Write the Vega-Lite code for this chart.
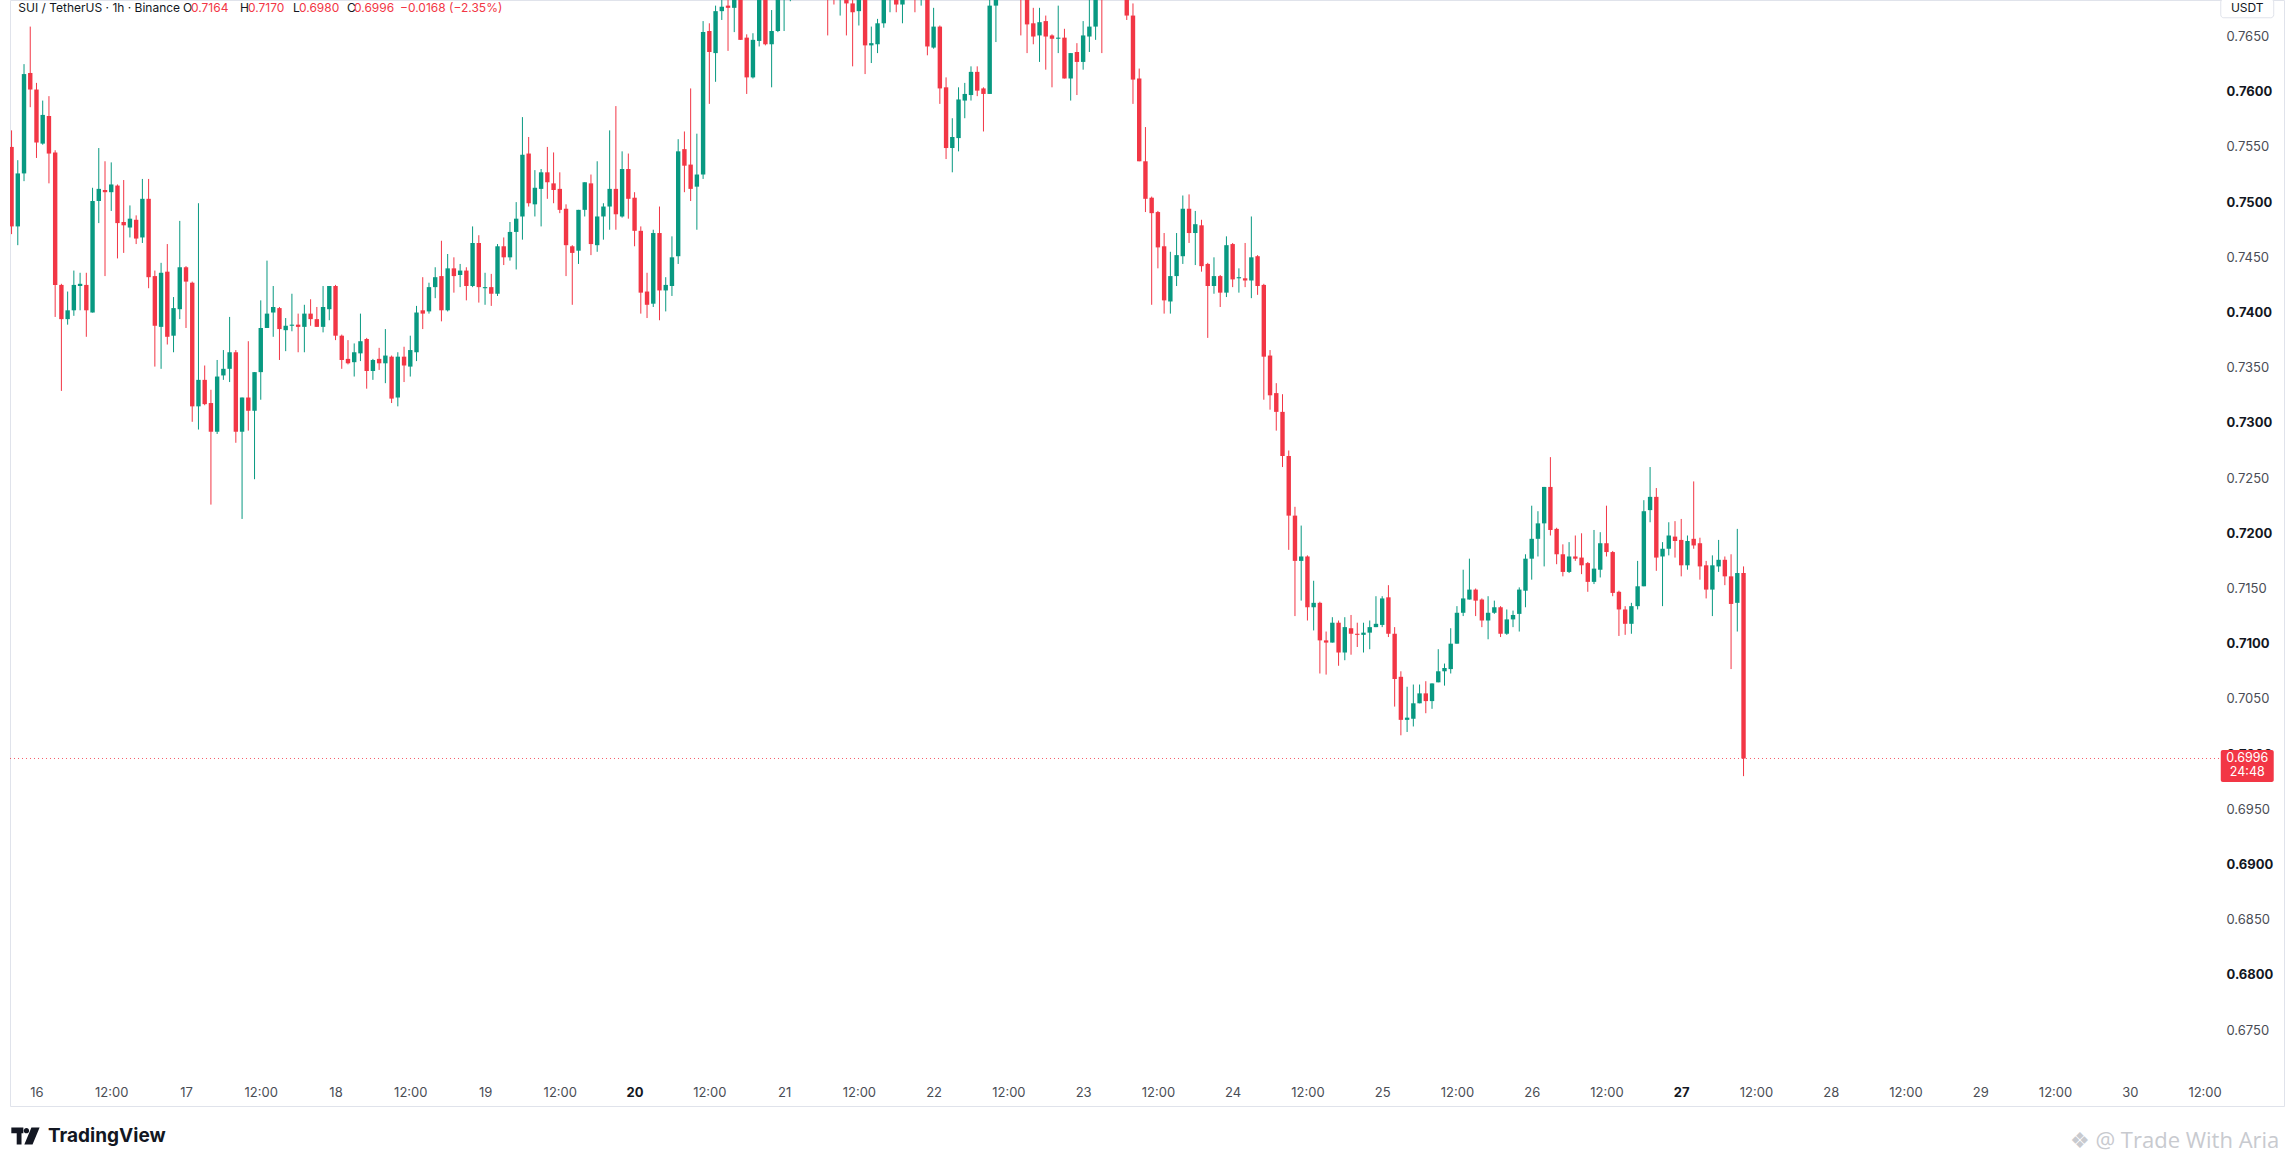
{
  "$schema": "https://vega.github.io/schema/vega-lite/v6.json",
  "width": 2274,
  "height": 1106,
  "autosize": {"type": "none"},
  "padding": {"left": 10, "top": 0, "right": 5, "bottom": 61},
  "background": "white",
  "view": {"stroke": "#e0e3eb"},
  "config": {"font": "Inter"},
  "datasets": {
    "candles": [
      {"t":"2026-04-15T20:00Z","o":0.7550,"h":0.7565,"l":0.7471,"c":0.7478},
      {"t":"2026-04-15T21:00Z","o":0.7478,"h":0.7538,"l":0.7461,"c":0.7526},
      {"t":"2026-04-15T22:00Z","o":0.7526,"h":0.7625,"l":0.7519,"c":0.7616},
      {"t":"2026-04-15T23:00Z","o":0.7617,"h":0.7659,"l":0.7586,"c":0.7602},
      {"t":"2026-04-16T00:00Z","o":0.7602,"h":0.7608,"l":0.7540,"c":0.7554},
      {"t":"2026-04-16T01:00Z","o":0.7553,"h":0.7592,"l":0.7552,"c":0.7579},
      {"t":"2026-04-16T02:00Z","o":0.7578,"h":0.7596,"l":0.7517,"c":0.7544},
      {"t":"2026-04-16T03:00Z","o":0.7545,"h":0.7547,"l":0.7396,"c":0.7425},
      {"t":"2026-04-16T04:00Z","o":0.7425,"h":0.7426,"l":0.7329,"c":0.7394},
      {"t":"2026-04-16T05:00Z","o":0.7394,"h":0.7419,"l":0.7389,"c":0.7402},
      {"t":"2026-04-16T06:00Z","o":0.7402,"h":0.7438,"l":0.7397,"c":0.7425},
      {"t":"2026-04-16T07:00Z","o":0.7424,"h":0.7436,"l":0.7402,"c":0.7426},
      {"t":"2026-04-16T08:00Z","o":0.7425,"h":0.7436,"l":0.7378,"c":0.7402},
      {"t":"2026-04-16T09:00Z","o":0.7400,"h":0.7513,"l":0.7400,"c":0.7501},
      {"t":"2026-04-16T10:00Z","o":0.7501,"h":0.7549,"l":0.7481,"c":0.7512},
      {"t":"2026-04-16T11:00Z","o":0.7511,"h":0.7537,"l":0.7433,"c":0.7509},
      {"t":"2026-04-16T12:00Z","o":0.7509,"h":0.7536,"l":0.7492,"c":0.7516},
      {"t":"2026-04-16T13:00Z","o":0.7515,"h":0.7516,"l":0.7449,"c":0.7481},
      {"t":"2026-04-16T14:00Z","o":0.7482,"h":0.7520,"l":0.7454,"c":0.7479},
      {"t":"2026-04-16T15:00Z","o":0.7477,"h":0.7497,"l":0.7468,"c":0.7485},
      {"t":"2026-04-16T16:00Z","o":0.7484,"h":0.7488,"l":0.7462,"c":0.7467},
      {"t":"2026-04-16T17:00Z","o":0.7468,"h":0.7521,"l":0.7463,"c":0.7503},
      {"t":"2026-04-16T18:00Z","o":0.7503,"h":0.7521,"l":0.7422,"c":0.7432},
      {"t":"2026-04-16T19:00Z","o":0.7433,"h":0.7438,"l":0.7351,"c":0.7388},
      {"t":"2026-04-16T20:00Z","o":0.7387,"h":0.7445,"l":0.7349,"c":0.7436},
      {"t":"2026-04-16T21:00Z","o":0.7437,"h":0.7462,"l":0.7371,"c":0.7378},
      {"t":"2026-04-16T22:00Z","o":0.7379,"h":0.7414,"l":0.7364,"c":0.7404},
      {"t":"2026-04-16T23:00Z","o":0.7403,"h":0.7483,"l":0.7394,"c":0.7441},
      {"t":"2026-04-17T00:00Z","o":0.7441,"h":0.7442,"l":0.7386,"c":0.7428},
      {"t":"2026-04-17T01:00Z","o":0.7427,"h":0.7428,"l":0.7301,"c":0.7315},
      {"t":"2026-04-17T02:00Z","o":0.7315,"h":0.7499,"l":0.7294,"c":0.7339},
      {"t":"2026-04-17T03:00Z","o":0.7339,"h":0.7352,"l":0.7316,"c":0.7317},
      {"t":"2026-04-17T04:00Z","o":0.7318,"h":0.7330,"l":0.7226,"c":0.7292},
      {"t":"2026-04-17T05:00Z","o":0.7292,"h":0.7357,"l":0.7290,"c":0.7342},
      {"t":"2026-04-17T06:00Z","o":0.7343,"h":0.7366,"l":0.7339,"c":0.7349},
      {"t":"2026-04-17T07:00Z","o":0.7349,"h":0.7396,"l":0.7337,"c":0.7364},
      {"t":"2026-04-17T08:00Z","o":0.7364,"h":0.7366,"l":0.7282,"c":0.7292},
      {"t":"2026-04-17T09:00Z","o":0.7292,"h":0.7323,"l":0.7213,"c":0.7323},
      {"t":"2026-04-17T10:00Z","o":0.7323,"h":0.7374,"l":0.7293,"c":0.7311},
      {"t":"2026-04-17T11:00Z","o":0.7311,"h":0.7346,"l":0.7249,"c":0.7346},
      {"t":"2026-04-17T12:00Z","o":0.7346,"h":0.7411,"l":0.7321,"c":0.7386},
      {"t":"2026-04-17T13:00Z","o":0.7386,"h":0.7447,"l":0.7386,"c":0.7399},
      {"t":"2026-04-17T14:00Z","o":0.7400,"h":0.7424,"l":0.7378,"c":0.7405},
      {"t":"2026-04-17T15:00Z","o":0.7404,"h":0.7405,"l":0.7357,"c":0.7385},
      {"t":"2026-04-17T16:00Z","o":0.7384,"h":0.7395,"l":0.7365,"c":0.7388},
      {"t":"2026-04-17T17:00Z","o":0.7388,"h":0.7417,"l":0.7383,"c":0.7389},
      {"t":"2026-04-17T18:00Z","o":0.7389,"h":0.7399,"l":0.7364,"c":0.7387},
      {"t":"2026-04-17T19:00Z","o":0.7387,"h":0.7407,"l":0.7364,"c":0.7399},
      {"t":"2026-04-17T20:00Z","o":0.7399,"h":0.7412,"l":0.7388,"c":0.7394},
      {"t":"2026-04-17T21:00Z","o":0.7394,"h":0.7405,"l":0.7387,"c":0.7387},
      {"t":"2026-04-17T22:00Z","o":0.7387,"h":0.7424,"l":0.7382,"c":0.7405},
      {"t":"2026-04-17T23:00Z","o":0.7403,"h":0.7424,"l":0.7393,"c":0.7424},
      {"t":"2026-04-18T00:00Z","o":0.7424,"h":0.7425,"l":0.7375,"c":0.7379},
      {"t":"2026-04-18T01:00Z","o":0.7379,"h":0.7380,"l":0.7349,"c":0.7357},
      {"t":"2026-04-18T02:00Z","o":0.7358,"h":0.7375,"l":0.7353,"c":0.7354},
      {"t":"2026-04-18T03:00Z","o":0.7355,"h":0.7372,"l":0.7342,"c":0.7364},
      {"t":"2026-04-18T04:00Z","o":0.7363,"h":0.7399,"l":0.7356,"c":0.7374},
      {"t":"2026-04-18T05:00Z","o":0.7376,"h":0.7377,"l":0.7331,"c":0.7347},
      {"t":"2026-04-18T06:00Z","o":0.7347,"h":0.7358,"l":0.7339,"c":0.7357},
      {"t":"2026-04-18T07:00Z","o":0.7358,"h":0.7368,"l":0.7348,"c":0.7354},
      {"t":"2026-04-18T08:00Z","o":0.7354,"h":0.7385,"l":0.7336,"c":0.7361},
      {"t":"2026-04-18T09:00Z","o":0.7360,"h":0.7361,"l":0.7318,"c":0.7322},
      {"t":"2026-04-18T10:00Z","o":0.7323,"h":0.7364,"l":0.7315,"c":0.7360},
      {"t":"2026-04-18T11:00Z","o":0.7360,"h":0.7369,"l":0.7337,"c":0.7352},
      {"t":"2026-04-18T12:00Z","o":0.7351,"h":0.7379,"l":0.7342,"c":0.7366},
      {"t":"2026-04-18T13:00Z","o":0.7364,"h":0.7406,"l":0.7356,"c":0.7400},
      {"t":"2026-04-18T14:00Z","o":0.7402,"h":0.7432,"l":0.7385,"c":0.7399},
      {"t":"2026-04-18T15:00Z","o":0.7401,"h":0.7427,"l":0.7399,"c":0.7423},
      {"t":"2026-04-18T16:00Z","o":0.7423,"h":0.7441,"l":0.7413,"c":0.7432},
      {"t":"2026-04-18T17:00Z","o":0.7433,"h":0.7465,"l":0.7392,"c":0.7402},
      {"t":"2026-04-18T18:00Z","o":0.7402,"h":0.7453,"l":0.7401,"c":0.7440},
      {"t":"2026-04-18T19:00Z","o":0.7440,"h":0.7450,"l":0.7418,"c":0.7433},
      {"t":"2026-04-18T20:00Z","o":0.7434,"h":0.7444,"l":0.7423,"c":0.7438},
      {"t":"2026-04-18T21:00Z","o":0.7438,"h":0.7441,"l":0.7411,"c":0.7424},
      {"t":"2026-04-18T22:00Z","o":0.7424,"h":0.7478,"l":0.7423,"c":0.7463},
      {"t":"2026-04-18T23:00Z","o":0.7463,"h":0.7470,"l":0.7409,"c":0.7423},
      {"t":"2026-04-19T00:00Z","o":0.7422,"h":0.7436,"l":0.7407,"c":0.7423},
      {"t":"2026-04-19T01:00Z","o":0.7423,"h":0.7435,"l":0.7406,"c":0.7417},
      {"t":"2026-04-19T02:00Z","o":0.7417,"h":0.7462,"l":0.7415,"c":0.7460},
      {"t":"2026-04-19T03:00Z","o":0.7460,"h":0.7468,"l":0.7443,"c":0.7450},
      {"t":"2026-04-19T04:00Z","o":0.7450,"h":0.7482,"l":0.7447,"c":0.7473},
      {"t":"2026-04-19T05:00Z","o":0.7473,"h":0.7500,"l":0.7439,"c":0.7485},
      {"t":"2026-04-19T06:00Z","o":0.7487,"h":0.7577,"l":0.7466,"c":0.7543},
      {"t":"2026-04-19T07:00Z","o":0.7544,"h":0.7559,"l":0.7496,"c":0.7499},
      {"t":"2026-04-19T08:00Z","o":0.7498,"h":0.7529,"l":0.7487,"c":0.7513},
      {"t":"2026-04-19T09:00Z","o":0.7512,"h":0.7530,"l":0.7478,"c":0.7527},
      {"t":"2026-04-19T10:00Z","o":0.7527,"h":0.7550,"l":0.7503,"c":0.7518},
      {"t":"2026-04-19T11:00Z","o":0.7517,"h":0.7545,"l":0.7499,"c":0.7511},
      {"t":"2026-04-19T12:00Z","o":0.7512,"h":0.7527,"l":0.7490,"c":0.7493},
      {"t":"2026-04-19T13:00Z","o":0.7494,"h":0.7498,"l":0.7433,"c":0.7461},
      {"t":"2026-04-19T14:00Z","o":0.7460,"h":0.7461,"l":0.7407,"c":0.7454},
      {"t":"2026-04-19T15:00Z","o":0.7456,"h":0.7493,"l":0.7444,"c":0.7493},
      {"t":"2026-04-19T16:00Z","o":0.7493,"h":0.7518,"l":0.7487,"c":0.7518},
      {"t":"2026-04-19T17:00Z","o":0.7517,"h":0.7525,"l":0.7452,"c":0.7462},
      {"t":"2026-04-19T18:00Z","o":0.7461,"h":0.7537,"l":0.7455,"c":0.7487},
      {"t":"2026-04-19T19:00Z","o":0.7487,"h":0.7499,"l":0.7466,"c":0.7496},
      {"t":"2026-04-19T20:00Z","o":0.7496,"h":0.7565,"l":0.7475,"c":0.7512},
      {"t":"2026-04-19T21:00Z","o":0.7512,"h":0.7587,"l":0.7475,"c":0.7489},
      {"t":"2026-04-19T22:00Z","o":0.7487,"h":0.7546,"l":0.7486,"c":0.7530},
      {"t":"2026-04-19T23:00Z","o":0.7530,"h":0.7544,"l":0.7485,"c":0.7503},
      {"t":"2026-04-20T00:00Z","o":0.7504,"h":0.7509,"l":0.7460,"c":0.7474},
      {"t":"2026-04-20T01:00Z","o":0.7474,"h":0.7478,"l":0.7399,"c":0.7418},
      {"t":"2026-04-20T02:00Z","o":0.7419,"h":0.7436,"l":0.7395,"c":0.7407},
      {"t":"2026-04-20T03:00Z","o":0.7408,"h":0.7475,"l":0.7405,"c":0.7472},
      {"t":"2026-04-20T04:00Z","o":0.7472,"h":0.7496,"l":0.7393,"c":0.7420},
      {"t":"2026-04-20T05:00Z","o":0.7420,"h":0.7432,"l":0.7401,"c":0.7425},
      {"t":"2026-04-20T06:00Z","o":0.7424,"h":0.7469,"l":0.7415,"c":0.7450},
      {"t":"2026-04-20T07:00Z","o":0.7451,"h":0.7557,"l":0.7444,"c":0.7546},
      {"t":"2026-04-20T08:00Z","o":0.7548,"h":0.7564,"l":0.7509,"c":0.7533},
      {"t":"2026-04-20T09:00Z","o":0.7534,"h":0.7603,"l":0.7501,"c":0.7512},
      {"t":"2026-04-20T10:00Z","o":0.7514,"h":0.7562,"l":0.7475,"c":0.7525},
      {"t":"2026-04-20T11:00Z","o":0.7525,"h":0.7664,"l":0.7521,"c":0.7654},
      {"t":"2026-04-20T12:00Z","o":0.7655,"h":0.7662,"l":0.7589,"c":0.7636},
      {"t":"2026-04-20T13:00Z","o":0.7635,"h":0.7678,"l":0.7609,"c":0.7673},
      {"t":"2026-04-20T14:00Z","o":0.7673,"h":0.7686,"l":0.7665,"c":0.7677},
      {"t":"2026-04-20T15:00Z","o":0.7678,"h":0.7688,"l":0.7637,"c":0.7676},
      {"t":"2026-04-20T16:00Z","o":0.7676,"h":0.7710,"l":0.7654,"c":0.7700},
      {"t":"2026-04-20T17:00Z","o":0.7705,"h":0.7715,"l":0.7647,"c":0.7647},
      {"t":"2026-04-20T18:00Z","o":0.7649,"h":0.7652,"l":0.7598,"c":0.7613},
      {"t":"2026-04-20T19:00Z","o":0.7613,"h":0.7653,"l":0.7612,"c":0.7647},
      {"t":"2026-04-20T20:00Z","o":0.7646,"h":0.7705,"l":0.7641,"c":0.7695},
      {"t":"2026-04-20T21:00Z","o":0.7700,"h":0.7710,"l":0.7642,"c":0.7643},
      {"t":"2026-04-20T22:00Z","o":0.7643,"h":0.7674,"l":0.7604,"c":0.7655},
      {"t":"2026-04-20T23:00Z","o":0.7655,"h":0.7700,"l":0.7654,"c":0.7690},
      {"t":"2026-04-21T00:00Z","o":0.7700,"h":0.7720,"l":0.7655,"c":0.7710},
      {"t":"2026-04-21T01:00Z","o":0.7705,"h":0.7725,"l":0.7682,"c":0.7712},
      {"t":"2026-04-21T02:00Z","o":0.7712,"h":0.7730,"l":0.7700,"c":0.7720},
      {"t":"2026-04-21T03:00Z","o":0.7720,"h":0.7735,"l":0.7705,"c":0.7715},
      {"t":"2026-04-21T04:00Z","o":0.7715,"h":0.7732,"l":0.7700,"c":0.7722},
      {"t":"2026-04-21T05:00Z","o":0.7722,"h":0.7730,"l":0.7698,"c":0.7710},
      {"t":"2026-04-21T06:00Z","o":0.7710,"h":0.7728,"l":0.7695,"c":0.7718},
      {"t":"2026-04-21T07:00Z","o":0.7718,"h":0.7725,"l":0.7651,"c":0.7700},
      {"t":"2026-04-21T08:00Z","o":0.7708,"h":0.7715,"l":0.7679,"c":0.7698},
      {"t":"2026-04-21T09:00Z","o":0.7698,"h":0.7718,"l":0.7669,"c":0.7710},
      {"t":"2026-04-21T10:00Z","o":0.7700,"h":0.7710,"l":0.7651,"c":0.7680},
      {"t":"2026-04-21T11:00Z","o":0.7680,"h":0.7688,"l":0.7623,"c":0.7672},
      {"t":"2026-04-21T12:00Z","o":0.7673,"h":0.7695,"l":0.7660,"c":0.7688},
      {"t":"2026-04-21T13:00Z","o":0.7690,"h":0.7700,"l":0.7616,"c":0.7642},
      {"t":"2026-04-21T14:00Z","o":0.7642,"h":0.7659,"l":0.7626,"c":0.7644},
      {"t":"2026-04-21T15:00Z","o":0.7643,"h":0.7666,"l":0.7635,"c":0.7662},
      {"t":"2026-04-21T16:00Z","o":0.7662,"h":0.7695,"l":0.7658,"c":0.7688},
      {"t":"2026-04-21T17:00Z","o":0.7690,"h":0.7710,"l":0.7672,"c":0.7700},
      {"t":"2026-04-21T18:00Z","o":0.7695,"h":0.7700,"l":0.7672,"c":0.7679},
      {"t":"2026-04-21T19:00Z","o":0.7679,"h":0.7698,"l":0.7662,"c":0.7690},
      {"t":"2026-04-21T20:00Z","o":0.7690,"h":0.7712,"l":0.7684,"c":0.7700},
      {"t":"2026-04-21T21:00Z","o":0.7705,"h":0.7712,"l":0.7672,"c":0.7695},
      {"t":"2026-04-21T22:00Z","o":0.7695,"h":0.7715,"l":0.7678,"c":0.7705},
      {"t":"2026-04-21T23:00Z","o":0.7698,"h":0.7710,"l":0.7633,"c":0.7641},
      {"t":"2026-04-22T00:00Z","o":0.7640,"h":0.7676,"l":0.7639,"c":0.7659},
      {"t":"2026-04-22T01:00Z","o":0.7659,"h":0.7660,"l":0.7589,"c":0.7603},
      {"t":"2026-04-22T02:00Z","o":0.7604,"h":0.7613,"l":0.7539,"c":0.7549},
      {"t":"2026-04-22T03:00Z","o":0.7549,"h":0.7576,"l":0.7527,"c":0.7559},
      {"t":"2026-04-22T04:00Z","o":0.7558,"h":0.7604,"l":0.7546,"c":0.7593},
      {"t":"2026-04-22T05:00Z","o":0.7592,"h":0.7608,"l":0.7576,"c":0.7598},
      {"t":"2026-04-22T06:00Z","o":0.7597,"h":0.7623,"l":0.7592,"c":0.7618},
      {"t":"2026-04-22T07:00Z","o":0.7618,"h":0.7623,"l":0.7596,"c":0.7601},
      {"t":"2026-04-22T08:00Z","o":0.7603,"h":0.7604,"l":0.7564,"c":0.7598},
      {"t":"2026-04-22T09:00Z","o":0.7598,"h":0.7690,"l":0.7598,"c":0.7678},
      {"t":"2026-04-22T10:00Z","o":0.7678,"h":0.7705,"l":0.7645,"c":0.7695},
      {"t":"2026-04-22T11:00Z","o":0.7695,"h":0.7715,"l":0.7685,"c":0.7705},
      {"t":"2026-04-22T12:00Z","o":0.7705,"h":0.7722,"l":0.7695,"c":0.7712},
      {"t":"2026-04-22T13:00Z","o":0.7712,"h":0.7720,"l":0.7690,"c":0.7700},
      {"t":"2026-04-22T14:00Z","o":0.7705,"h":0.7715,"l":0.7651,"c":0.7690},
      {"t":"2026-04-22T15:00Z","o":0.7692,"h":0.7700,"l":0.7635,"c":0.7661},
      {"t":"2026-04-22T16:00Z","o":0.7662,"h":0.7676,"l":0.7643,"c":0.7650},
      {"t":"2026-04-22T17:00Z","o":0.7651,"h":0.7676,"l":0.7627,"c":0.7663},
      {"t":"2026-04-22T18:00Z","o":0.7664,"h":0.7669,"l":0.7620,"c":0.7650},
      {"t":"2026-04-22T19:00Z","o":0.7651,"h":0.7652,"l":0.7604,"c":0.7648},
      {"t":"2026-04-22T20:00Z","o":0.7648,"h":0.7678,"l":0.7635,"c":0.7649},
      {"t":"2026-04-22T21:00Z","o":0.7649,"h":0.7657,"l":0.7612,"c":0.7612},
      {"t":"2026-04-22T22:00Z","o":0.7612,"h":0.7635,"l":0.7592,"c":0.7635},
      {"t":"2026-04-22T23:00Z","o":0.7636,"h":0.7644,"l":0.7597,"c":0.7627},
      {"t":"2026-04-23T00:00Z","o":0.7627,"h":0.7664,"l":0.7620,"c":0.7651},
      {"t":"2026-04-23T01:00Z","o":0.7650,"h":0.7690,"l":0.7636,"c":0.7659},
      {"t":"2026-04-23T02:00Z","o":0.7659,"h":0.7700,"l":0.7647,"c":0.7690},
      {"t":"2026-04-23T03:00Z","o":0.7700,"h":0.7710,"l":0.7635,"c":0.7690},
      {"t":"2026-04-23T04:00Z","o":0.7695,"h":0.7715,"l":0.7688,"c":0.7705},
      {"t":"2026-04-23T05:00Z","o":0.7705,"h":0.7725,"l":0.7695,"c":0.7712},
      {"t":"2026-04-23T06:00Z","o":0.7712,"h":0.7720,"l":0.7688,"c":0.7700},
      {"t":"2026-04-23T07:00Z","o":0.7700,"h":0.7708,"l":0.7665,"c":0.7669},
      {"t":"2026-04-23T08:00Z","o":0.7669,"h":0.7680,"l":0.7589,"c":0.7611},
      {"t":"2026-04-23T09:00Z","o":0.7612,"h":0.7621,"l":0.7537,"c":0.7537},
      {"t":"2026-04-23T10:00Z","o":0.7537,"h":0.7568,"l":0.7491,"c":0.7503},
      {"t":"2026-04-23T11:00Z","o":0.7504,"h":0.7505,"l":0.7407,"c":0.7490},
      {"t":"2026-04-23T12:00Z","o":0.7491,"h":0.7492,"l":0.7440,"c":0.7459},
      {"t":"2026-04-23T13:00Z","o":0.7460,"h":0.7472,"l":0.7399,"c":0.7411},
      {"t":"2026-04-23T14:00Z","o":0.7410,"h":0.7455,"l":0.7399,"c":0.7433},
      {"t":"2026-04-23T15:00Z","o":0.7433,"h":0.7472,"l":0.7424,"c":0.7452},
      {"t":"2026-04-23T16:00Z","o":0.7451,"h":0.7506,"l":0.7444,"c":0.7494},
      {"t":"2026-04-23T17:00Z","o":0.7494,"h":0.7507,"l":0.7463,"c":0.7472},
      {"t":"2026-04-23T18:00Z","o":0.7472,"h":0.7492,"l":0.7443,"c":0.7480},
      {"t":"2026-04-23T19:00Z","o":0.7479,"h":0.7484,"l":0.7437,"c":0.7442},
      {"t":"2026-04-23T20:00Z","o":0.7444,"h":0.7445,"l":0.7377,"c":0.7424},
      {"t":"2026-04-23T21:00Z","o":0.7424,"h":0.7450,"l":0.7417,"c":0.7433},
      {"t":"2026-04-23T22:00Z","o":0.7433,"h":0.7434,"l":0.7405,"c":0.7418},
      {"t":"2026-04-23T23:00Z","o":0.7418,"h":0.7469,"l":0.7414,"c":0.7461},
      {"t":"2026-04-24T00:00Z","o":0.7462,"h":0.7463,"l":0.7423,"c":0.7430},
      {"t":"2026-04-24T01:00Z","o":0.7431,"h":0.7440,"l":0.7418,"c":0.7432},
      {"t":"2026-04-24T02:00Z","o":0.7431,"h":0.7463,"l":0.7423,"c":0.7429},
      {"t":"2026-04-24T03:00Z","o":0.7429,"h":0.7487,"l":0.7413,"c":0.7450},
      {"t":"2026-04-24T04:00Z","o":0.7451,"h":0.7452,"l":0.7416,"c":0.7424},
      {"t":"2026-04-24T05:00Z","o":0.7425,"h":0.7426,"l":0.7321,"c":0.7360},
      {"t":"2026-04-24T06:00Z","o":0.7361,"h":0.7366,"l":0.7312,"c":0.7325},
      {"t":"2026-04-24T07:00Z","o":0.7327,"h":0.7336,"l":0.7293,"c":0.7310},
      {"t":"2026-04-24T08:00Z","o":0.7310,"h":0.7326,"l":0.7260,"c":0.7270},
      {"t":"2026-04-24T09:00Z","o":0.7270,"h":0.7275,"l":0.7185,"c":0.7216},
      {"t":"2026-04-24T10:00Z","o":0.7216,"h":0.7224,"l":0.7125,"c":0.7175},
      {"t":"2026-04-24T11:00Z","o":0.7175,"h":0.7207,"l":0.7139,"c":0.7179},
      {"t":"2026-04-24T12:00Z","o":0.7179,"h":0.7180,"l":0.7121,"c":0.7133},
      {"t":"2026-04-24T13:00Z","o":0.7133,"h":0.7157,"l":0.7112,"c":0.7137},
      {"t":"2026-04-24T14:00Z","o":0.7137,"h":0.7138,"l":0.7073,"c":0.7103},
      {"t":"2026-04-24T15:00Z","o":0.7103,"h":0.7111,"l":0.7072,"c":0.7101},
      {"t":"2026-04-24T16:00Z","o":0.7101,"h":0.7124,"l":0.7101,"c":0.7119},
      {"t":"2026-04-24T17:00Z","o":0.7119,"h":0.7121,"l":0.7080,"c":0.7092},
      {"t":"2026-04-24T18:00Z","o":0.7092,"h":0.7124,"l":0.7085,"c":0.7115},
      {"t":"2026-04-24T19:00Z","o":0.7114,"h":0.7126,"l":0.7090,"c":0.7109},
      {"t":"2026-04-24T20:00Z","o":0.7109,"h":0.7119,"l":0.7097,"c":0.7108},
      {"t":"2026-04-24T21:00Z","o":0.7108,"h":0.7119,"l":0.7092,"c":0.7110},
      {"t":"2026-04-24T22:00Z","o":0.7110,"h":0.7121,"l":0.7095,"c":0.7115},
      {"t":"2026-04-24T23:00Z","o":0.7115,"h":0.7143,"l":0.7115,"c":0.7118},
      {"t":"2026-04-25T00:00Z","o":0.7117,"h":0.7143,"l":0.7115,"c":0.7141},
      {"t":"2026-04-25T01:00Z","o":0.7142,"h":0.7153,"l":0.7106,"c":0.7109},
      {"t":"2026-04-25T02:00Z","o":0.7109,"h":0.7115,"l":0.7043,"c":0.7068},
      {"t":"2026-04-25T03:00Z","o":0.7070,"h":0.7075,"l":0.7017,"c":0.7031},
      {"t":"2026-04-25T04:00Z","o":0.7031,"h":0.7061,"l":0.7020,"c":0.7033},
      {"t":"2026-04-25T05:00Z","o":0.7032,"h":0.7063,"l":0.7025,"c":0.7046},
      {"t":"2026-04-25T06:00Z","o":0.7046,"h":0.7063,"l":0.7046,"c":0.7055},
      {"t":"2026-04-25T07:00Z","o":0.7055,"h":0.7066,"l":0.7037,"c":0.7048},
      {"t":"2026-04-25T08:00Z","o":0.7048,"h":0.7064,"l":0.7041,"c":0.7064},
      {"t":"2026-04-25T09:00Z","o":0.7065,"h":0.7095,"l":0.7065,"c":0.7075},
      {"t":"2026-04-25T10:00Z","o":0.7075,"h":0.7082,"l":0.7062,"c":0.7078},
      {"t":"2026-04-25T11:00Z","o":0.7077,"h":0.7114,"l":0.7073,"c":0.7100},
      {"t":"2026-04-25T12:00Z","o":0.7100,"h":0.7134,"l":0.7100,"c":0.7128},
      {"t":"2026-04-25T13:00Z","o":0.7128,"h":0.7167,"l":0.7125,"c":0.7141},
      {"t":"2026-04-25T14:00Z","o":0.7140,"h":0.7177,"l":0.7140,"c":0.7149},
      {"t":"2026-04-25T15:00Z","o":0.7149,"h":0.7150,"l":0.7125,"c":0.7139},
      {"t":"2026-04-25T16:00Z","o":0.7140,"h":0.7141,"l":0.7115,"c":0.7121},
      {"t":"2026-04-25T17:00Z","o":0.7121,"h":0.7143,"l":0.7104,"c":0.7128},
      {"t":"2026-04-25T18:00Z","o":0.7128,"h":0.7139,"l":0.7127,"c":0.7133},
      {"t":"2026-04-25T19:00Z","o":0.7133,"h":0.7134,"l":0.7106,"c":0.7109},
      {"t":"2026-04-25T20:00Z","o":0.7109,"h":0.7131,"l":0.7108,"c":0.7122},
      {"t":"2026-04-25T21:00Z","o":0.7122,"h":0.7130,"l":0.7115,"c":0.7126},
      {"t":"2026-04-25T22:00Z","o":0.7127,"h":0.7151,"l":0.7111,"c":0.7149},
      {"t":"2026-04-25T23:00Z","o":0.7148,"h":0.7181,"l":0.7133,"c":0.7177},
      {"t":"2026-04-26T00:00Z","o":0.7177,"h":0.7225,"l":0.7158,"c":0.7195},
      {"t":"2026-04-26T01:00Z","o":0.7195,"h":0.7220,"l":0.7179,"c":0.7209},
      {"t":"2026-04-26T02:00Z","o":0.7209,"h":0.7242,"l":0.7170,"c":0.7242},
      {"t":"2026-04-26T03:00Z","o":0.7242,"h":0.7269,"l":0.7198,"c":0.7203},
      {"t":"2026-04-26T04:00Z","o":0.7204,"h":0.7205,"l":0.7172,"c":0.7181},
      {"t":"2026-04-26T05:00Z","o":0.7181,"h":0.7190,"l":0.7161,"c":0.7165},
      {"t":"2026-04-26T06:00Z","o":0.7165,"h":0.7192,"l":0.7164,"c":0.7179},
      {"t":"2026-04-26T07:00Z","o":0.7179,"h":0.7198,"l":0.7175,"c":0.7177},
      {"t":"2026-04-26T08:00Z","o":0.7178,"h":0.7200,"l":0.7163,"c":0.7171},
      {"t":"2026-04-26T09:00Z","o":0.7173,"h":0.7174,"l":0.7147,"c":0.7156},
      {"t":"2026-04-26T10:00Z","o":0.7156,"h":0.7203,"l":0.7154,"c":0.7168},
      {"t":"2026-04-26T11:00Z","o":0.7167,"h":0.7201,"l":0.7160,"c":0.7191},
      {"t":"2026-04-26T12:00Z","o":0.7191,"h":0.7225,"l":0.7179,"c":0.7183},
      {"t":"2026-04-26T13:00Z","o":0.7183,"h":0.7184,"l":0.7143,"c":0.7146},
      {"t":"2026-04-26T14:00Z","o":0.7147,"h":0.7148,"l":0.7107,"c":0.7131},
      {"t":"2026-04-26T15:00Z","o":0.7131,"h":0.7134,"l":0.7108,"c":0.7118},
      {"t":"2026-04-26T16:00Z","o":0.7118,"h":0.7137,"l":0.7109,"c":0.7134},
      {"t":"2026-04-26T17:00Z","o":0.7134,"h":0.7175,"l":0.7131,"c":0.7152},
      {"t":"2026-04-26T18:00Z","o":0.7152,"h":0.7230,"l":0.7152,"c":0.7220},
      {"t":"2026-04-26T19:00Z","o":0.7221,"h":0.7260,"l":0.7210,"c":0.7233},
      {"t":"2026-04-26T20:00Z","o":0.7233,"h":0.7241,"l":0.7166,"c":0.7178},
      {"t":"2026-04-26T21:00Z","o":0.7179,"h":0.7192,"l":0.7134,"c":0.7186},
      {"t":"2026-04-26T22:00Z","o":0.7186,"h":0.7210,"l":0.7180,"c":0.7198},
      {"t":"2026-04-26T23:00Z","o":0.7197,"h":0.7211,"l":0.7178,"c":0.7193},
      {"t":"2026-04-27T00:00Z","o":0.7194,"h":0.7213,"l":0.7161,"c":0.7171},
      {"t":"2026-04-27T01:00Z","o":0.7171,"h":0.7198,"l":0.7167,"c":0.7193},
      {"t":"2026-04-27T02:00Z","o":0.7195,"h":0.7247,"l":0.7186,"c":0.7189},
      {"t":"2026-04-27T03:00Z","o":0.7191,"h":0.7196,"l":0.7158,"c":0.7170},
      {"t":"2026-04-27T04:00Z","o":0.7171,"h":0.7175,"l":0.7141,"c":0.7149},
      {"t":"2026-04-27T05:00Z","o":0.7149,"h":0.7180,"l":0.7125,"c":0.7171},
      {"t":"2026-04-27T06:00Z","o":0.7170,"h":0.7194,"l":0.7165,"c":0.7176},
      {"t":"2026-04-27T07:00Z","o":0.7176,"h":0.7179,"l":0.7153,"c":0.7161},
      {"t":"2026-04-27T08:00Z","o":0.7161,"h":0.7181,"l":0.7077,"c":0.7136},
      {"t":"2026-04-27T09:00Z","o":0.7137,"h":0.7204,"l":0.7111,"c":0.7164},
      {"t":"2026-04-27T10:00Z","o":0.7164,"h":0.7170,"l":0.6980,"c":0.6996}
    ],
    "notes": [
      {"t":"2026-04-15T21:05Z","p":0.7676,"txt":"SUI / TetherUS · 1h · Binance","kind":"hk"},
      {"t":"2026-04-16T23:31Z","p":0.7676,"txt":"O","kind":"hk"},
      {"t":"2026-04-17T00:48Z","p":0.7676,"txt":"0.7164","kind":"hr"},
      {"t":"2026-04-17T08:40Z","p":0.7676,"txt":"H","kind":"hk"},
      {"t":"2026-04-17T09:57Z","p":0.7676,"txt":"0.7170","kind":"hr"},
      {"t":"2026-04-17T17:10Z","p":0.7676,"txt":"L","kind":"hk"},
      {"t":"2026-04-17T18:08Z","p":0.7676,"txt":"0.6980","kind":"hr"},
      {"t":"2026-04-18T01:50Z","p":0.7676,"txt":"C","kind":"hk"},
      {"t":"2026-04-18T02:58Z","p":0.7676,"txt":"0.6996","kind":"hr"},
      {"t":"2026-04-18T10:21Z","p":0.7676,"txt":"−0.0168 (−2.35%)","kind":"hr"},
      {"t":"2026-04-30T18:51Z","p":0.69967,"txt":"0.6996","kind":"tag"},
      {"t":"2026-04-30T18:51Z","p":0.69837,"txt":"24:48","kind":"tag"},
      {"t":"2026-04-30T18:51Z","p":0.76755,"txt":"USDT","kind":"unit"},
      {"t":"2026-04-16T01:51Z","p":0.6654,"txt":"TradingView","kind":"brand"},
      {"t":"2026-05-01T00:00Z","p":0.66495,"txt":"❖  @ Trade With Aria","kind":"wm"}
    ],
    "boxes": [
      {"t":"2026-04-30T14:36Z","t2":"2026-04-30T23:06Z","p":0.70036,"p2":0.69746,"kind":"tag"},
      {"t":"2026-04-30T14:36Z","t2":"2026-04-30T23:06Z","p":0.7684,"p2":0.7667,"kind":"unit"}
    ],
    "lastPrice": [
      {"t":"2026-04-15T19:45Z","t2":"2026-04-30T14:36Z","p":0.6996}
    ],
    "logo": [
      {"t":"2026-04-15T22:14Z","p":0.6654}
    ]
  },
  "encoding": {
    "x": {
      "field": "t",
      "type": "temporal",
      "title": null,
      "scale": {"type": "utc", "domain": [1776282300000, 1777596300000], "padding": 0},
      "axis": {
        "values": [1776297600000,1776340800000,1776384000000,1776427200000,1776470400000,1776513600000,1776556800000,1776600000000,1776643200000,1776686400000,1776729600000,1776772800000,1776816000000,1776859200000,1776902400000,1776945600000,1776988800000,1777032000000,1777075200000,1777118400000,1777161600000,1777204800000,1777248000000,1777291200000,1777334400000,1777377600000,1777420800000,1777464000000,1777507200000,1777550400000],
        "labelExpr": "utchours(datum.value) == 0 ? '' + utcdate(datum.value) : '12:00'",
        "domain": false,
        "ticks": false,
        "tickSize": 0,
        "grid": false,
        "offset": -29,
        "labelPadding": 9,
        "labelFontSize": 13,
        "labelFlush": false,
        "labelOverlap": false,
        "labelFontWeight": {"condition": {"test": "utchours(datum.value) == 0 && utcdate(datum.value) % 7 == 6", "value": "bold"}, "value": "normal"},
        "labelColor": {"condition": {"test": "utchours(datum.value) == 0 && utcdate(datum.value) % 7 == 6", "value": "#131722"}, "value": "#4a4d55"}
      }
    }
  },
  "layer": [
    {
      "data": {"name": "candles"},
      "mark": {"type": "rule", "strokeWidth": 1, "clip": true},
      "encoding": {
        "y": {
          "field": "l",
          "type": "quantitative",
          "title": null,
          "scale": {"domain": [0.66812, 0.76831], "nice": false, "zero": false},
          "axis": {
            "orient": "right",
            "offset": -62,
            "values": [0.675,0.68,0.685,0.69,0.695,0.7,0.705,0.71,0.715,0.72,0.725,0.73,0.735,0.74,0.745,0.75,0.755,0.76,0.765],
            "format": ".4f",
            "labelAlign": "left",
            "labelPadding": 4,
            "tickSize": 0,
            "ticks": false,
            "domain": false,
            "grid": false,
            "labelFontSize": 13,
            "labelFontWeight": {"condition": {"test": "round(datum.value * 200) % 2 == 0", "value": "bold"}, "value": "normal"},
            "labelColor": {"condition": {"test": "round(datum.value * 200) % 2 == 0", "value": "#131722"}, "value": "#4a4d55"}
          }
        },
        "y2": {"field": "h"},
        "color": {"condition": {"test": "datum.c >= datum.o", "value": "#089981"}, "value": "#F23645"}
      }
    },
    {
      "data": {"name": "candles"},
      "mark": {"type": "bar", "width": 4.4, "clip": true},
      "encoding": {
        "y": {"field": "o", "type": "quantitative", "title": null},
        "y2": {"field": "c"},
        "color": {"condition": {"test": "datum.c >= datum.o", "value": "#089981"}, "value": "#F23645"}
      }
    },
    {
      "data": {"name": "lastPrice"},
      "mark": {"type": "rule", "stroke": "#F23645", "strokeWidth": 1, "strokeDash": [1, 3], "opacity": 0.8},
      "encoding": {
        "x2": {"field": "t2"},
        "y": {"field": "p", "type": "quantitative", "title": null}
      }
    },
    {
      "data": {"name": "boxes"},
      "transform": [{"filter": "datum.kind == 'tag'"}],
      "mark": {"type": "rect", "fill": "#F23645", "cornerRadius": 2},
      "encoding": {
        "x2": {"field": "t2"},
        "y": {"field": "p", "type": "quantitative", "title": null},
        "y2": {"field": "p2"}
      }
    },
    {
      "data": {"name": "boxes"},
      "transform": [{"filter": "datum.kind == 'unit'"}],
      "mark": {"type": "rect", "fill": "white", "stroke": "#e0e3eb", "strokeWidth": 1, "cornerRadius": 3},
      "encoding": {
        "x2": {"field": "t2"},
        "y": {"field": "p", "type": "quantitative", "title": null},
        "y2": {"field": "p2"}
      }
    },
    {
      "data": {"name": "notes"},
      "transform": [{"filter": "datum.kind == 'hk'"}],
      "mark": {"type": "text", "align": "left", "baseline": "middle", "fontSize": 12, "color": "#131722"},
      "encoding": {
        "y": {"field": "p", "type": "quantitative", "title": null},
        "text": {"field": "txt"}
      }
    },
    {
      "data": {"name": "notes"},
      "transform": [{"filter": "datum.kind == 'hr'"}],
      "mark": {"type": "text", "align": "left", "baseline": "middle", "fontSize": 12, "color": "#F23645"},
      "encoding": {
        "y": {"field": "p", "type": "quantitative", "title": null},
        "text": {"field": "txt"}
      }
    },
    {
      "data": {"name": "notes"},
      "transform": [{"filter": "datum.kind == 'tag'"}],
      "mark": {"type": "text", "align": "center", "baseline": "middle", "fontSize": 12.5, "color": "white"},
      "encoding": {
        "y": {"field": "p", "type": "quantitative", "title": null},
        "text": {"field": "txt"}
      }
    },
    {
      "data": {"name": "notes"},
      "transform": [{"filter": "datum.kind == 'unit'"}],
      "mark": {"type": "text", "align": "center", "baseline": "middle", "fontSize": 12, "color": "#131722"},
      "encoding": {
        "y": {"field": "p", "type": "quantitative", "title": null},
        "text": {"field": "txt"}
      }
    },
    {
      "data": {"name": "notes"},
      "transform": [{"filter": "datum.kind == 'brand'"}],
      "mark": {"type": "text", "align": "left", "baseline": "middle", "fontSize": 19, "fontWeight": "bold", "color": "#131722", "clip": false},
      "encoding": {
        "y": {"field": "p", "type": "quantitative", "title": null},
        "text": {"field": "txt"}
      }
    },
    {
      "data": {"name": "notes"},
      "transform": [{"filter": "datum.kind == 'wm'"}],
      "mark": {"type": "text", "align": "right", "baseline": "middle", "fontSize": 22, "font": "Open Sans", "color": "#c8cacf", "clip": false},
      "encoding": {
        "y": {"field": "p", "type": "quantitative", "title": null},
        "text": {"field": "txt"}
      }
    },
    {
      "data": {"name": "logo"},
      "mark": {
        "type": "point",
        "filled": true,
        "opacity": 1,
        "color": "#131722",
        "size": 800,
        "shape": "M-1,-0.6L-0.15,-0.6L-0.15,-0.2L-0.28,-0.2L-0.28,0.6L-0.62,0.6L-0.62,-0.2L-1,-0.2Z M-0.12,-0.38A0.19,0.19,0,1,0,0.26,-0.38A0.19,0.19,0,1,0,-0.12,-0.38Z M0.42,-0.6L1,-0.6L0.5,0.6L-0.08,0.6Z"
      },
      "encoding": {
        "y": {"field": "p", "type": "quantitative", "title": null}
      }
    }
  ]
}
